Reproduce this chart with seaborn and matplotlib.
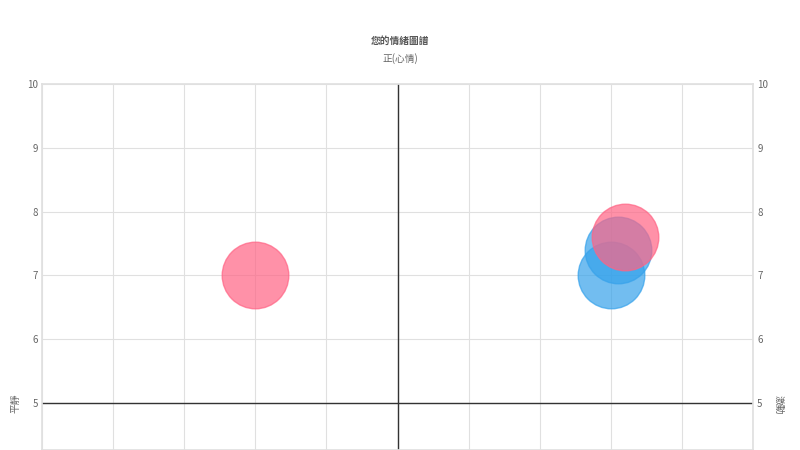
import matplotlib.pyplot as plt
import seaborn as sns
import pandas as pd

pink_x = [3, 8.2]
pink_y = [7, 7.6]
blue_x = [8, 8.1]
blue_y = [7, 7.4]

sns.set_theme(style="white")
plt.rcParams['font.family'] = ['Noto Sans CJK TC', 'DejaVu Sans']

fig = plt.figure(figsize=(8, 4.5), dpi=100)
ax = fig.add_axes([42/800, 0, (753-42)/800, 1 - 84/450])

sns.scatterplot(x=blue_x, y=blue_y, color="#36a2eb", edgecolor="#36a2eb",
                s=2300, alpha=0.7, linewidth=1, legend=False, ax=ax, zorder=3)
sns.scatterplot(x=pink_x, y=pink_y, color="#ff6384", edgecolor="#ff6384",
                s=2300, alpha=0.7, linewidth=1, legend=False, ax=ax, zorder=3)

ax.set_xlim(0, 10)
ax.set_ylim(5 - 47/64, 10)
ax.set_xticks(range(11))
ax.set_xticklabels([])
ax.set_yticks(range(5, 11))
ax.grid(True, color="#e0e0e0", linewidth=0.8)
ax.axvline(5, color="#333333", linewidth=1, zorder=2)
ax.axhline(5, color="#333333", linewidth=1, zorder=2)
for s in ax.spines.values():
    s.set_color("#e0e0e0")
ax.tick_params(axis="y", labelsize=7, labelcolor="#666666", length=0,
               left=True, right=True, labelleft=True, labelright=True, pad=3)
ax.tick_params(axis="x", length=0)
ax.set_xlabel("")
ax.set_ylabel("")

fig.text(400/800, 1 - 41/450, "您的情緒圖譜", ha="center", va="center",
         fontsize=7, fontweight="bold", color="#555555")
fig.text(400/800, 1 - 59/450, "正(心情)", ha="center", va="center",
         fontsize=7, color="#666666")
fig.text(15/800, 1 - 403/450, "平靜", rotation=90, ha="center", va="center",
         fontsize=7, color="#666666")
fig.text(779/800, 1 - 405/450, "激動", rotation=-90, ha="center", va="center",
         fontsize=7, color="#666666")

fig.savefig("out.png", dpi=100)
